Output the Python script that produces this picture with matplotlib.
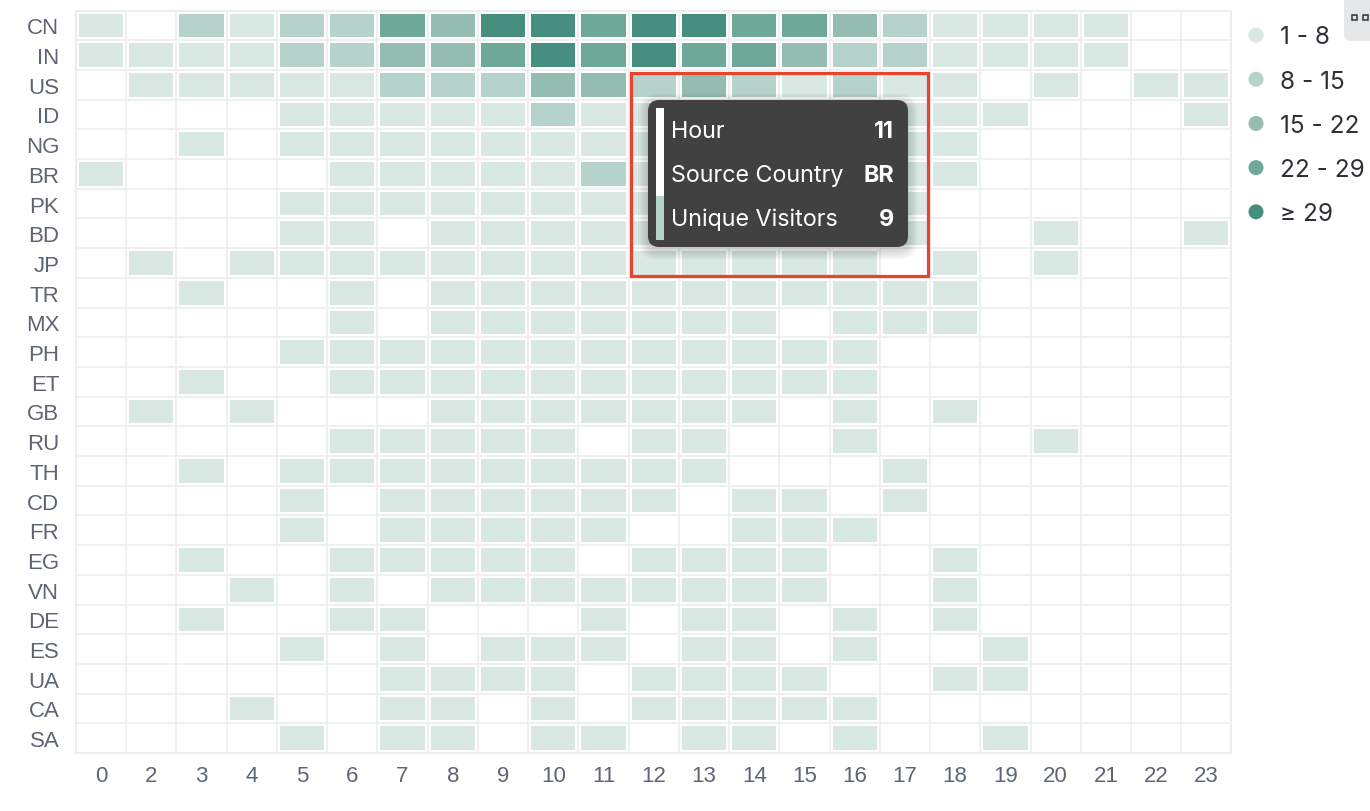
import numpy as np
import matplotlib
matplotlib.use("Agg")
import matplotlib.pyplot as plt
from matplotlib.colors import ListedColormap, BoundaryNorm
from matplotlib.patches import Rectangle, Circle, FancyBboxPatch

# ---------------- data ----------------
hours = ["0", "2", "3", "4", "5", "6", "7", "8", "9", "10", "11", "12",
         "13", "14", "15", "16", "17", "18", "19", "20", "21", "22", "23"]
countries = ["CN", "IN", "US", "ID", "NG", "BR", "PK", "BD", "JP", "TR", "MX",
             "PH", "ET", "GB", "RU", "TH", "CD", "FR", "EG", "VN", "DE", "ES",
             "UA", "CA", "SA"]

# estimated unique visitors per (country, hour); 0 = no visitors
CN = [4, 0, 11, 4, 11, 11, 25, 18, 32, 32, 25, 32, 32, 25, 25, 18, 11, 4, 4, 4, 4, 0, 0]
IN = [4, 4, 4, 4, 11, 11, 18, 18, 25, 32, 25, 32, 25, 25, 18, 11, 11, 4, 4, 4, 4, 0, 0]
US = [0, 4, 4, 4, 4, 4, 11, 11, 11, 18, 18, 11, 18, 11, 4, 11, 4, 4, 0, 4, 0, 4, 4]
ID = [0, 0, 0, 0, 4, 4, 4, 4, 4, 11, 4, 4, 4, 4, 4, 4, 4, 4, 4, 0, 0, 0, 4]
NG = [0, 0, 4, 0, 4, 4, 4, 4, 4, 4, 4, 4, 4, 4, 4, 4, 4, 4, 0, 0, 0, 0, 0]
BR = [4, 0, 0, 0, 0, 4, 4, 4, 4, 4, 9, 4, 4, 4, 4, 4, 4, 4, 0, 0, 0, 0, 0]
PK = [0, 0, 0, 0, 4, 4, 4, 4, 4, 4, 4, 4, 4, 4, 4, 4, 4, 0, 0, 0, 0, 0, 0]
BD = [0, 0, 0, 0, 4, 4, 0, 4, 4, 4, 4, 4, 4, 4, 4, 4, 4, 0, 0, 4, 0, 0, 4]
JP = [0, 4, 0, 4, 4, 4, 4, 4, 4, 4, 4, 4, 4, 4, 4, 4, 0, 4, 0, 4, 0, 0, 0]
TR = [0, 0, 4, 0, 0, 4, 0, 4, 4, 4, 4, 4, 4, 4, 4, 4, 4, 4, 0, 0, 0, 0, 0]
MX = [0, 0, 0, 0, 0, 4, 0, 4, 4, 4, 4, 4, 4, 4, 0, 4, 4, 4, 0, 0, 0, 0, 0]
PH = [0, 0, 0, 0, 4, 4, 4, 4, 4, 4, 4, 4, 4, 4, 4, 4, 0, 0, 0, 0, 0, 0, 0]
ET = [0, 0, 4, 0, 0, 4, 4, 4, 4, 4, 4, 4, 4, 4, 4, 4, 0, 0, 0, 0, 0, 0, 0]
GB = [0, 4, 0, 4, 0, 0, 0, 4, 4, 4, 4, 4, 4, 4, 0, 4, 0, 4, 0, 0, 0, 0, 0]
RU = [0, 0, 0, 0, 0, 4, 4, 4, 4, 4, 0, 4, 4, 0, 0, 4, 0, 0, 0, 4, 0, 0, 0]
TH = [0, 0, 4, 0, 4, 4, 4, 4, 4, 4, 4, 4, 4, 0, 0, 0, 4, 0, 0, 0, 0, 0, 0]
CD = [0, 0, 0, 0, 4, 0, 4, 4, 4, 4, 4, 4, 0, 4, 4, 0, 4, 0, 0, 0, 0, 0, 0]
FR = [0, 0, 0, 0, 4, 0, 4, 4, 4, 4, 4, 0, 0, 4, 4, 4, 0, 0, 0, 0, 0, 0, 0]
EG = [0, 0, 4, 0, 0, 4, 4, 4, 4, 4, 0, 4, 4, 4, 4, 0, 0, 4, 0, 0, 0, 0, 0]
VN = [0, 0, 0, 4, 0, 4, 0, 4, 4, 4, 4, 4, 4, 4, 4, 0, 0, 4, 0, 0, 0, 0, 0]
DE = [0, 0, 4, 0, 0, 4, 4, 0, 0, 0, 4, 0, 4, 4, 0, 4, 0, 4, 0, 0, 0, 0, 0]
ES = [0, 0, 0, 0, 4, 0, 4, 0, 4, 4, 4, 0, 4, 4, 0, 4, 0, 0, 4, 0, 0, 0, 0]
UA = [0, 0, 0, 0, 0, 0, 4, 4, 4, 4, 0, 4, 4, 4, 4, 0, 0, 4, 4, 0, 0, 0, 0]
CA = [0, 0, 0, 4, 0, 0, 4, 4, 0, 4, 0, 4, 4, 4, 4, 4, 0, 0, 0, 0, 0, 0, 0]
SA = [0, 0, 0, 0, 4, 0, 4, 4, 0, 4, 4, 0, 4, 4, 0, 4, 0, 0, 4, 0, 0, 0, 0]

bin_edges = [1, 8, 15, 22, 29, 1000]
legend_labels = ["1 - 8", "8 - 15", "15 - 22", "22 - 29", "\u2265 29"]
bin_colors = ["#d9e8e3", "#b5d3ca", "#94bcb1", "#6ea898", "#468e7d"]

tooltip_rows = [("Hour", "11"), ("Source Country", "BR"), ("Unique Visitors", "9")]

# ---------------- figure ----------------
W, H = 1370, 812
fig = plt.figure(figsize=(W / 100, H / 100), dpi=100)
fig.patch.set_facecolor("white")

left, right, top, bottom = 76, 1231.5, 11.5, 754
ax = fig.add_axes([left / W, 1 - bottom / H, (right - left) / W, (bottom - top) / H])

rows = [CN, IN, US, ID, NG, BR, PK, BD, JP, TR, MX, PH, ET, GB, RU, TH, CD, FR,
        EG, VN, DE, ES, UA, CA, SA]
Z = np.array(rows, dtype=float)
Zm = np.ma.masked_where(Z <= 0, Z)

cmap = ListedColormap(bin_colors)
norm = BoundaryNorm(bin_edges, cmap.N)

nx, ny = len(hours), len(countries)
xe = np.arange(nx + 1) - 0.5
ye = np.arange(ny + 1) - 0.5
ax.pcolormesh(xe, ye, Zm, cmap=cmap, norm=norm, edgecolors="white",
              linewidth=3.0, zorder=2)

grid_c = "#ebedf0"
ax.vlines(xe, ye[0], ye[-1], color=grid_c, lw=1.2, zorder=3)
ax.hlines(ye, xe[0], xe[-1], color=grid_c, lw=1.2, zorder=3)

ax.set_xlim(xe[0], xe[-1])
ax.set_ylim(ye[-1], ye[0])
for s in ax.spines.values():
    s.set_color(grid_c)
    s.set_linewidth(1.4)

tick_c = "#5e6572"
ax.set_xticks(range(nx))
ax.set_xticklabels(hours, fontsize=16, color=tick_c, family="Liberation Sans")
ax.set_yticks(range(ny))
ax.set_yticklabels(countries, fontsize=16, color=tick_c, family="Liberation Sans")
ax.tick_params(axis="x", length=0, pad=9)
ax.tick_params(axis="y", length=0, pad=12)

# ---------------- overlay (legend, tooltip, highlight) ----------------
ov = fig.add_axes([0, 0, 1, 1], zorder=10)
ov.set_xlim(0, W)
ov.set_ylim(H, 0)
ov.axis("off")
ov.patch.set_alpha(0)

# legend
leg_y0, leg_dy = 36, 44.2
for i, (lab, col) in enumerate(zip(legend_labels, bin_colors)):
    yy = leg_y0 + i * leg_dy
    ov.add_patch(Circle((1256, yy), 7.5, color=col, lw=0))
    ov.text(1280, yy + 8.5, lab, fontsize=17.5, color="#2d3136", family="Inter",
            va="baseline", ha="left")

# corner button
ov.add_patch(FancyBboxPatch((1344, -20), 60, 62,
                            boxstyle="round,pad=0,rounding_size=8",
                            fc="#e6e7e9", ec="none"))
ov.add_patch(Rectangle((1352, 15.5), 5, 5, fill=False, ec="#2d3136", lw=1.1))
ov.add_patch(Rectangle((1363, 15.5), 5, 5, fill=False, ec="#2d3136", lw=1.1))

# tooltip shadow
tx, ty, tw, th = 648, 101, 260, 147
for k in range(1, 11):
    ov.add_patch(FancyBboxPatch((tx - k, ty - k + 3), tw + 2 * k, th + 2 * k,
                                boxstyle=f"round,pad=0,rounding_size={10 + k}",
                                fc="black", ec="none", alpha=0.016))
ov.add_patch(FancyBboxPatch((tx, ty), tw, th,
                            boxstyle="round,pad=0,rounding_size=11",
                            fc="#414141", ec="none"))
ov.add_patch(Rectangle((656, 109), 8, 88, fc="white", ec="none"))
ov.add_patch(Rectangle((656, 197), 8, 44, fc=bin_colors[1], ec="none"))
for i, (k, v) in enumerate(tooltip_rows):
    by = 138.5 + i * 43.7
    ov.text(671, by, k, fontsize=16.8, color="white", family="Inter",
            va="baseline", ha="left")
    ov.text(894, by, v, fontsize=16.8, color="white", family="Inter",
            fontweight="bold", va="baseline", ha="right")

# red highlight box
ov.add_patch(Rectangle((631.5, 74), 297, 202.5, fill=False, ec="#e8432e", lw=2.3))

fig.savefig("out.png", dpi=100)
